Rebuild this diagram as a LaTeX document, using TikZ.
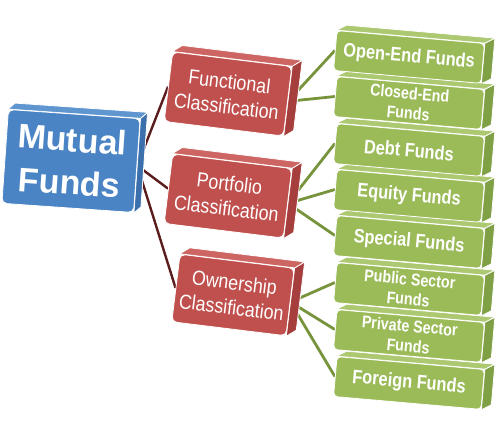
\documentclass[tikz,border=0pt]{standalone}
\usepackage{fontspec}
\setmainfont{Liberation Sans}
\newfontfamily\narrowfont[FakeStretch=0.87]{Liberation Sans}
\newfontfamily\gnarrowfont[FakeStretch=0.84]{Liberation Sans}
\usetikzlibrary{calc}
\pgfdeclarelayer{background}
\pgfsetlayers{background,main}
\definecolor{mfblue}{RGB}{74,132,196}
\definecolor{mfside}{RGB}{60,112,172}
\definecolor{mftop}{RGB}{96,150,208}
\definecolor{clred}{RGB}{192,80,77}
\definecolor{clside}{RGB}{165,62,60}
\definecolor{cltop}{RGB}{205,102,99}
\definecolor{fgreen}{RGB}{155,187,89}
\definecolor{fside}{RGB}{128,160,70}
\definecolor{ftop}{RGB}{172,200,112}
\definecolor{maroon}{RGB}{90,28,28}
\definecolor{lgreen}{RGB}{119,147,60}
\newcommand\myfaces[5]{% name, dx, dy, side colour, top colour
  \filldraw[#4,draw=white,line width=0.8pt] (#1.north east) -- ++(#2,#3) -- ($(#1.south east)+(#2,#3)$) -- (#1.south east) -- cycle;
  \filldraw[#5,draw=white,line width=0.8pt] (#1.north west) -- ++(#2,#3) -- ($(#1.north east)+(#2,#3)$) -- (#1.north east) -- cycle;}
\begin{document}
\begin{tikzpicture}[x=1pt,y=1pt,
  mfbox/.style={rotate=-4, fill=mfblue, draw=white, line width=0.8pt, rounded corners=5pt,
    minimum width=132pt, minimum height=94pt, text=white, align=center,
    font=\fontsize{34}{43}\selectfont\bfseries, inner sep=0pt},
  clbox/.style={rotate=-7, fill=clred, draw=white, line width=0.8pt, rounded corners=5pt,
    minimum width=120pt, minimum height=70pt, text=white, align=center,
    font=\narrowfont\fontsize{20.5}{25}\selectfont, inner sep=0pt},
  fbox/.style={rotate=-5, fill=fgreen, draw=white, line width=0.8pt, rounded corners=4pt,
    minimum width=148pt, minimum height=40pt, text=white, align=center,
    font=\gnarrowfont\fontsize{19.5}{18}\selectfont\bfseries, inner sep=0pt},
  fbox2/.style={fbox, font=\gnarrowfont\fontsize{17}{20}\selectfont\bfseries},
  mline/.style={maroon, line width=2.4pt},
  gline/.style={lgreen, line width=2.8pt}]
\useasboundingbox (0,0) rectangle (500,420);

\node[mfbox] (mf) at (71,259) {Mutual\\Funds};

\node[clbox] (fc) at (228,326) {Functional\\Classification};
\node[clbox] (pc) at (228,224) {Portfolio\\Classification};
\node[clbox,minimum width=115pt,minimum height=68pt] (oc) at (233,125) {Ownership\\Classification};

\node[fbox] (f1) at (409,363) {Open-End Funds};
\node[fbox2] (f2) at (409,317) {Closed-End\\Funds};
\node[fbox] (f3) at (409,270) {Debt Funds};
\node[fbox] (f4) at (409,224) {Equity Funds};
\node[fbox] (f5) at (409,178) {Special Funds};
\node[fbox2] (f6) at (409,131) {Public Sector\\Funds};
\node[fbox2] (f7) at (409,84) {Private Sector\\Funds};
\node[fbox] (f8) at (409,37) {Foreign Funds};

\begin{pgfonlayer}{background}
  \fill[white] (0,0) rectangle (500,420);
  \draw[mline] (mf.east) -- (fc.west);
  \draw[mline] (mf.east) -- (pc.west);
  \draw[mline] (mf.east) -- (oc.west);
  \draw[gline] (fc.east) -- (f1.west);
  \draw[gline] (fc.east) -- (f2.west);
  \draw[gline] (pc.east) -- (f3.west);
  \draw[gline] (pc.east) -- (f4.west);
  \draw[gline] (pc.east) -- (f5.west);
  \draw[gline] (oc.east) -- (f6.west);
  \draw[gline] (oc.east) -- (f7.west);
  \draw[gline] (oc.east) -- (f8.west);
  \myfaces{mf}{7}{6}{mfside}{mftop}
  \myfaces{fc}{10}{6}{clside}{cltop}
  \myfaces{pc}{10}{6}{clside}{cltop}
  \myfaces{oc}{10}{6}{clside}{cltop}
  \myfaces{f1}{10}{5}{fside}{ftop}
  \myfaces{f2}{10}{5}{fside}{ftop}
  \myfaces{f3}{10}{5}{fside}{ftop}
  \myfaces{f4}{10}{5}{fside}{ftop}
  \myfaces{f5}{10}{5}{fside}{ftop}
  \myfaces{f6}{10}{5}{fside}{ftop}
  \myfaces{f7}{10}{5}{fside}{ftop}
  \myfaces{f8}{10}{5}{fside}{ftop}
\end{pgfonlayer}
\end{tikzpicture}
\end{document}
